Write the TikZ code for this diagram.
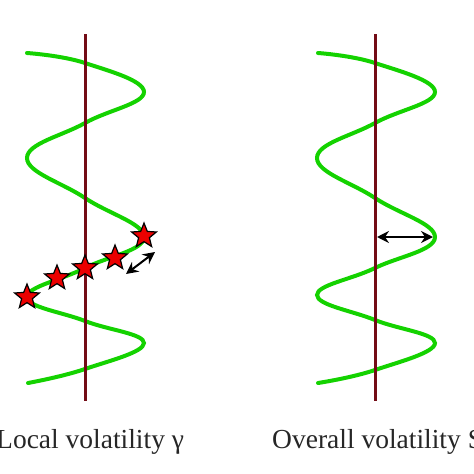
\documentclass[tikz,border=0pt]{standalone}
\usepackage{fontspec}
\setmainfont{Liberation Serif}
\usetikzlibrary{shapes.geometric,arrows.meta}
\definecolor{wave}{RGB}{20,210,0}
\definecolor{axisred}{RGB}{115,12,22}
\definecolor{starred}{RGB}{235,0,0}
\tikzset{
  wavecurve/.style={wave,line width=4pt,line cap=round},
  axisline/.style={axisred,line width=3pt},
  starnode/.style={star,star points=5,star point ratio=2.3,minimum size=26pt,inner sep=0pt,fill=starred,draw=black,line width=1.2pt},
  dblarrow/.style={black,line width=2pt,{Stealth[length=12pt,width=12pt,inset=4pt]}-{Stealth[length=12pt,width=12pt,inset=4pt]}},
  label/.style={font=\fontsize{27.5}{30}\selectfont,anchor=base west,inner sep=0pt,text=black!85}
}
\begin{document}
\begin{tikzpicture}[x=1pt,y=-1pt]
\useasboundingbox (0,0) rectangle (474,474);
% left panel
\draw[wavecurve] plot[smooth,tension=0.7] coordinates{(27,53) (85,63) (144,92) (85,123) (27,158) (85,198) (144,237) (85,268) (27,297) (85,321) (144,343) (85,369) (28,383)};
\draw[axisline] (85,34) coordinate (la1) -- (85,401) coordinate (la2);
\node[starnode] (s1) at (27,297) {};
\node[starnode] (s2) at (57,278) {};
\node[starnode] (s3) at (85,268) {};
\node[starnode] (s4) at (115,258) {};
\node[starnode] (s5) at (144,236) {};
\coordinate (da1) at (126,274);
\coordinate (da2) at (155,252);
\draw[dblarrow] (da1) -- (da2);
% right panel
\draw[wavecurve] plot[smooth,tension=0.7] coordinates{(318,53) (375,63) (435,92) (375,123) (317,158) (375,198) (435,237) (375,268) (317,295) (375,320) (435,343) (375,370) (318,383)};
\draw[axisline] (375,34) coordinate (ra1) -- (375,401) coordinate (ra2);
\coordinate (ar1) at (377,237);
\coordinate (ar2) at (433,237);
\draw[dblarrow] (ar1) -- (ar2);
% labels
\node[label] (t1) at (-4,448) {Local volatility γ};
\node[label] (t2) at (272,448) {Overall volatility S};
\end{tikzpicture}
\end{document}
